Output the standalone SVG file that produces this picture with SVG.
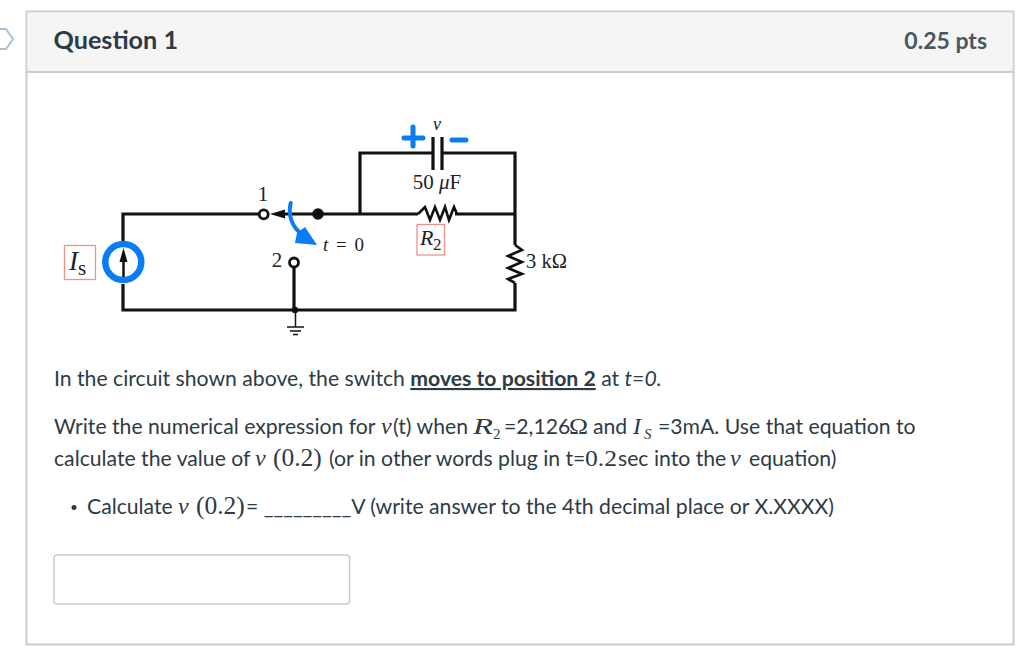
<svg xmlns="http://www.w3.org/2000/svg" width="1024" height="667" viewBox="0 0 1024 667">
<style>
.t{font-family:Lato,"Liberation Sans",sans-serif;font-size:21.2px;fill:#2d3b45}
.m{font-family:"Liberation Serif",serif;font-size:24px;fill:#2d3b45}
.p{font-size:25.500px}
.s{font-size:15px}
.i{font-style:italic}
.c{font-family:"Liberation Serif",serif;fill:#222}
.w{fill:none;stroke:#111;stroke-width:3.2;stroke-linejoin:miter}
.b{fill:none;stroke:#0a7cf5;stroke-linecap:round;stroke-linejoin:round}
.r{fill:#fff;stroke:#f0928c;stroke-width:1.3}
</style>
<rect width="1024" height="667" fill="#fff"/>
<g id="page">
<path d="M-4 29H6L13 39L6 49H-4" fill="#fff" stroke="#a9c0d2" stroke-width="2"/>
<rect x="26.500" y="11.500" width="987" height="633" fill="#fff" stroke="#c7cdd1" stroke-width="2"/>
<rect x="27.500" y="12.500" width="985" height="59" fill="#f5f5f5"/>
<path d="M27 72H1013" stroke="#c7cdd1" stroke-width="2"/>
<text class="t" x="53.500" y="49" style="font-size:25.200px;font-weight:700">Question 1</text>
<text class="t" x="987" y="49" text-anchor="end" style="font-size:23px;font-weight:700;fill:#4a5660">0.25 pts</text>
</g>
<g id="connectors">
<path class="w" d="M123 241V214H260M123 284V310H515V283M515 245V153H442M433 153H360V214M276 214H418M455 214H515M294 267V310"/>
<path class="w" d="M433 137V170M442 137V170"/>
<path class="w" style="stroke-width:2.600" d="M418 214L425 207L430 220L435 207L440 220L445 207L449 220L454 207L457 214"/>
<path class="w" style="stroke-width:2.600" d="M515 245L522 250L508 256L522 262L508 268L522 274L508 279L515 283"/>
<path d="M295.500 310V327" stroke="#111" stroke-width="1.500"/>
<path d="M287 327H304M290 331H301M293 334.500H298" stroke="#111" stroke-width="1.500"/>
</g>
<g id="source">
<circle cx="123.300" cy="262" r="18" fill="none" stroke="#0a7cf5" stroke-width="6.500"/>
<path d="M123.500 248L119.500 262H127.500Z" fill="#111"/>
<path d="M123.500 262V277" stroke="#111" stroke-width="2.500"/>
<rect class="r" x="64.500" y="245.500" width="31" height="34"/>
<text class="c i" x="69" y="270" font-size="27">I</text>
<text class="c" x="78" y="275" font-size="21">s</text>
</g>
<g id="switch">
<circle cx="263.700" cy="214.300" r="4.500" fill="#fff" stroke="#111" stroke-width="2.800"/>
<path d="M270 214L285 209.500V218.500Z" fill="#111"/>
<circle cx="318" cy="214" r="5.800" fill="#111"/>
<text class="c" x="263" y="201" font-size="21" text-anchor="middle">1</text>
<text class="c" x="277" y="267" font-size="21" text-anchor="middle">2</text>
<circle cx="294" cy="262.500" r="4.500" fill="#fff" stroke="#111" stroke-width="2.800"/>
<circle cx="295" cy="310" r="3.200" fill="#111"/>
<text class="c" x="323" y="251" font-size="19" textLength="41"><tspan font-style="italic">t</tspan> = 0</text>
<path class="b" style="stroke-width:4" d="M290.700 203C288 214 291 227 303 235"/>
<path d="M295 243L297 233L305 227L317 245Z" fill="#0a7cf5"/>
</g>
<g id="capacitor">
<path class="b" style="stroke-width:5" d="M404 138H423M413 127V146M452 140H466"/>
<text class="c i" x="437" y="130" font-size="18" text-anchor="middle">v</text>
<text class="c" x="437" y="189" font-size="21" text-anchor="middle">50 <tspan font-style="italic">μ</tspan>F</text>
</g>
<g id="r2">
<rect class="r" x="417" y="224.500" width="27.500" height="30.500"/>
<text class="c i" x="420" y="245" font-size="22">R</text>
<text class="c" x="433" y="250" font-size="17">2</text>
</g>
<g id="r3">
<text class="c" x="526" y="268" font-size="20.500">3 kΩ</text>
</g>
<g id="body">
<text class="t" x="54" y="386">In the circuit shown above, the switch <tspan font-weight="700" text-decoration="underline">moves to position 2</tspan> at <tspan font-style="italic">t=0.</tspan></text>
<text class="t" x="54" y="434">Write the numerical expression for</text>
<text class="m i" x="381" y="434">v</text><text class="t" x="393" y="434">(t) when</text>
<text class="m i" x="473" y="434" textLength="20" lengthAdjust="spacingAndGlyphs">R</text><text class="m s" x="493" y="439">2</text>
<text class="t" x="504" y="434">=2,126</text><text class="m" x="569" y="434" textLength="19" lengthAdjust="spacingAndGlyphs">Ω</text>
<text class="t" x="593" y="434">and</text><text class="m i" x="633" y="434">I</text><text class="m i s" x="644" y="439">S</text>
<text class="t" x="658" y="434">=3mA. Use that equation to</text>
<text class="t" x="54" y="466">calculate the value of</text>
<text class="m i" x="255" y="466">v</text><text class="m p" x="273" y="466">(0.2)</text>
<text class="t" x="329" y="466">(or in other words plug in t=</text><text class="m" x="585" y="466" textLength="32" lengthAdjust="spacingAndGlyphs">0.2</text><text class="t" x="618" y="466">sec into the</text>
<text class="m i" x="730" y="466">v</text><text class="t" x="749" y="466">equation)</text>
<circle cx="74" cy="507.500" r="2.500" fill="#2d3b45"/>
<text class="t" x="87" y="514">Calculate</text><text class="m i" x="178" y="514">v</text><text class="m p" x="196" y="514">(0.2)</text>
<text class="t" x="246" y="514">= _________V (write answer to the 4th decimal place or X.XXXX)</text>
<rect x="54" y="555" width="295.500" height="49" rx="3" fill="#fff" stroke="#c7cdd1" stroke-width="1.500"/>
</g>
</svg>
